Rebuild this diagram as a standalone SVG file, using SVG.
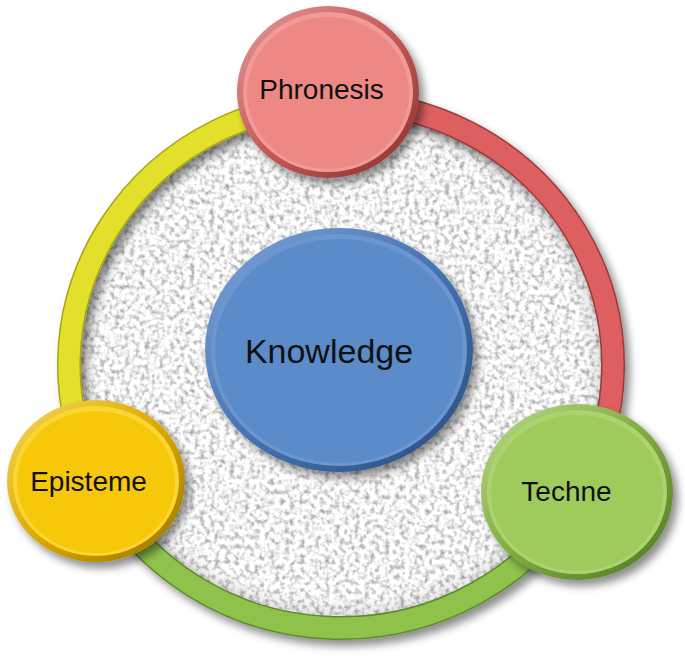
<svg xmlns="http://www.w3.org/2000/svg" width="685" height="660" viewBox="0 0 685 660">
<style>
.lbl{font-family:"Liberation Sans",Arial,sans-serif;fill:#111;text-anchor:middle}
.ring{fill:none;stroke-width:21;stroke-linecap:butt}
.ringedge{fill:none;stroke-width:24;stroke-linecap:butt}
</style>
<defs>
<filter id="shadow" x="-20%" y="-20%" width="150%" height="150%">
<feGaussianBlur in="SourceAlpha" stdDeviation="4"/>
<feOffset dx="5" dy="6" result="b"/>
<feComponentTransfer><feFuncA type="linear" slope="0.45"/></feComponentTransfer>
<feMerge><feMergeNode/><feMergeNode in="SourceGraphic"/></feMerge>
</filter>
<filter id="tex" x="0" y="0" width="100%" height="100%" color-interpolation-filters="sRGB">
<feTurbulence type="fractalNoise" baseFrequency="0.2" numOctaves="2" seed="3" result="n"/>
<feColorMatrix in="n" type="matrix" values="0.85 0 0 0 0.52  0.85 0 0 0 0.52  0.85 0 0 0 0.52  0 0 0 0 1" result="g"/>
<feComposite in="g" in2="SourceGraphic" operator="in"/>
</filter>
<radialGradient id="diskShade" cx="0.5" cy="0.5" r="0.5">
<stop offset="0.92" stop-color="#000" stop-opacity="0"/>
<stop offset="1" stop-color="#000" stop-opacity="0.1"/>
</radialGradient>
<linearGradient id="rimR" x1="0" y1="0" x2="1" y2="1"><stop offset="0" stop-color="#e69a98"/><stop offset="0.5" stop-color="#c45a58"/><stop offset="1" stop-color="#86302f"/></linearGradient>
<linearGradient id="rimY" x1="0" y1="0" x2="1" y2="1"><stop offset="0" stop-color="#f5d860"/><stop offset="0.5" stop-color="#dcaa00"/><stop offset="1" stop-color="#957400"/></linearGradient>
<linearGradient id="rimG" x1="0" y1="0" x2="1" y2="1"><stop offset="0" stop-color="#bcdc8a"/><stop offset="0.5" stop-color="#80ab42"/><stop offset="1" stop-color="#527622"/></linearGradient>
<linearGradient id="rimB" x1="0" y1="0" x2="1" y2="1"><stop offset="0" stop-color="#7ea6da"/><stop offset="0.5" stop-color="#4774b2"/><stop offset="1" stop-color="#284c7c"/></linearGradient>
</defs>
<rect width="685" height="660" fill="#fff"/>
<g id="disk">
<ellipse cx="341" cy="365" rx="262" ry="253" fill="#000" filter="url(#tex)"/>
<ellipse cx="341" cy="365" rx="262" ry="253" fill="url(#diskShade)"/>
</g>
<g id="connectors" filter="url(#shadow)">
<path class="ringedge" stroke="#9a3b3a" d="M 341 102 A 272 263 0 0 1 578.9 492.5"/>
<path class="ringedge" stroke="#5e8a2c" d="M 578.9 492.5 A 272 263 0 0 1 96.5 480.3"/>
<path class="ringedge" stroke="#a9a414" d="M 96.5 480.3 A 272 263 0 0 1 341 102"/>
<path class="ring" stroke="#dd5f5e" d="M 341 102 A 272 263 0 0 1 578.9 492.5"/>
<path class="ring" stroke="#8fc24c" d="M 578.9 492.5 A 272 263 0 0 1 96.5 480.3"/>
<path class="ring" stroke="#e2e02a" d="M 96.5 480.3 A 272 263 0 0 1 341 102"/>
</g>
<g id="knowledge">
<ellipse cx="339" cy="350" rx="134" ry="122" fill="url(#rimB)" filter="url(#shadow)"/>
<ellipse cx="339" cy="350" rx="128" ry="116" fill="#6b96cf"/>
<ellipse cx="339" cy="351" rx="124" ry="112" fill="#5b8bc9"/>
<text class="lbl" x="329" y="363" font-size="34">Knowledge</text>
</g>
<g id="phronesis">
<ellipse cx="328" cy="92" rx="91" ry="86" fill="url(#rimR)" filter="url(#shadow)"/>
<ellipse cx="328" cy="92" rx="85" ry="80" fill="#f29a97"/>
<ellipse cx="328" cy="93" rx="81" ry="76" fill="#ee8885"/>
<text class="lbl" x="321.5" y="99" font-size="28">Phronesis</text>
</g>
<g id="episteme">
<ellipse cx="96" cy="481" rx="89" ry="81" fill="url(#rimY)" filter="url(#shadow)"/>
<ellipse cx="96" cy="481" rx="83" ry="75" fill="#fad632"/>
<ellipse cx="96" cy="482" rx="79" ry="71" fill="#f7c80a"/>
<text class="lbl" x="88.5" y="491" font-size="28">Episteme</text>
</g>
<g id="techne">
<ellipse cx="577" cy="492" rx="96" ry="88" fill="url(#rimG)" filter="url(#shadow)"/>
<ellipse cx="577" cy="492" rx="90" ry="82" fill="#acd36e"/>
<ellipse cx="577" cy="493" rx="86" ry="78" fill="#9fca5c"/>
<text class="lbl" x="566.5" y="501" font-size="28">Techne</text>
</g>
</svg>
